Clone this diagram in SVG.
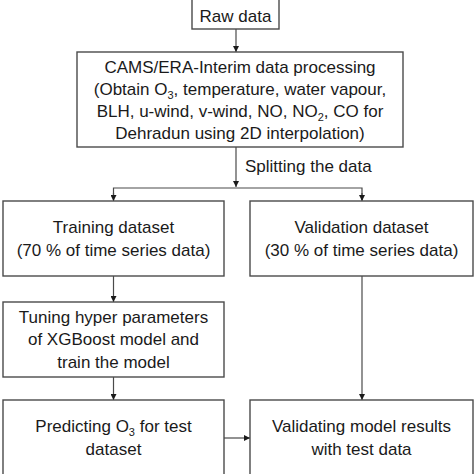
<svg xmlns="http://www.w3.org/2000/svg" width="474" height="474" viewBox="0 0 474 474">
<defs>
<style>
.box{fill:#fff;stroke:#4a4a4a;stroke-width:1.4}
.t{font-family:"Liberation Sans",Arial,sans-serif;font-size:17px;fill:#1a1a1a;text-anchor:middle}
.c{fill:none;stroke:#4a4a4a;stroke-width:1.2}
</style>
<marker id="ah" viewBox="0 0 8 8" refX="8" refY="4" markerWidth="6" markerHeight="6" markerUnits="userSpaceOnUse" orient="auto">
<path d="M0,0 L8,4 L0,8 Z" fill="#1a1a1a"/>
</marker>
</defs>
<rect width="474" height="474" fill="#fff"/>
<g id="connectors">
<line class="c" x1="236" y1="29" x2="236" y2="52" marker-end="url(#ah)"/>
<line class="c" x1="236" y1="147" x2="236" y2="187" marker-end="url(#ah)"/>
<polyline class="c" points="113.5,200 113.5,188 362,188 362,200"/>
<line class="c" x1="113.5" y1="193" x2="113.5" y2="201" marker-end="url(#ah)"/>
<line class="c" x1="362" y1="193" x2="362" y2="201" marker-end="url(#ah)"/>
<line class="c" x1="113.5" y1="276" x2="113.5" y2="302" marker-end="url(#ah)"/>
<line class="c" x1="113.5" y1="377" x2="113.5" y2="400" marker-end="url(#ah)"/>
<line class="c" x1="362" y1="276" x2="362" y2="400" marker-end="url(#ah)"/>
<line class="c" x1="224" y1="438" x2="250" y2="438" marker-end="url(#ah)"/>
<text x="245" y="172" class="t" style="text-anchor:start">Splitting the data</text>
</g>
<g id="raw">
<rect class="box" x="192" y="-5" width="87" height="34"/>
<text x="235.5" y="22" class="t">Raw data</text>
</g>
<g id="processing">
<rect class="box" x="77" y="52" width="326" height="95"/>
<text x="240" y="73" class="t">CAMS/ERA-Interim data processing</text>
<text x="240" y="95" class="t">(Obtain O<tspan font-size="11" dy="4">3</tspan><tspan dy="-4">, temperature, water vapour,</tspan></text>
<text x="240" y="117" class="t">BLH, u-wind, v-wind, NO, NO<tspan font-size="11" dy="4">2</tspan><tspan dy="-4">, CO for</tspan></text>
<text x="240" y="139" class="t">Dehradun using 2D interpolation)</text>
</g>
<g id="training">
<rect class="box" x="3" y="201" width="221" height="75"/>
<text x="113.5" y="233" class="t">Training dataset</text>
<text x="113.5" y="256" class="t">(70 % of time series data)</text>
</g>
<g id="validation">
<rect class="box" x="250" y="201" width="223" height="75"/>
<text x="361.5" y="233" class="t">Validation dataset</text>
<text x="361.5" y="256" class="t">(30 % of time series data)</text>
</g>
<g id="tuning">
<rect class="box" x="3" y="302" width="221" height="75"/>
<text x="113.5" y="323" class="t">Tuning hyper parameters</text>
<text x="113.5" y="345" class="t">of XGBoost model and</text>
<text x="113.5" y="368" class="t">train the model</text>
</g>
<g id="predicting">
<rect class="box" x="3" y="400" width="221" height="90"/>
<text x="113.5" y="432" class="t">Predicting O<tspan font-size="11" dy="4">3</tspan><tspan dy="-4"> for test</tspan></text>
<text x="113.5" y="455" class="t">dataset</text>
</g>
<g id="validating">
<rect class="box" x="250" y="400" width="223" height="90"/>
<text x="361.5" y="432" class="t">Validating model results</text>
<text x="361.5" y="455" class="t">with test data</text>
</g>
</svg>
